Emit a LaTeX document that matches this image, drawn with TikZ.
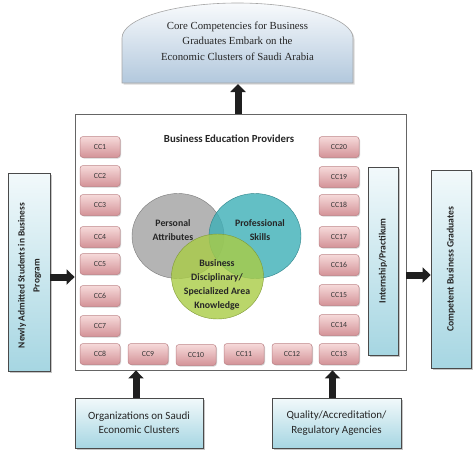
\documentclass[tikz,border=0pt]{standalone}
\usepackage{fontspec}
\setmainfont{Carlito}
\newfontfamily\domefont{Liberation Serif}
\usetikzlibrary{arrows.meta,shadows,shapes.geometric,calc}
\definecolor{ccpinkT}{HTML}{F6DADA}
\definecolor{ccpinkB}{HTML}{D39297}
\definecolor{ccedge}{HTML}{BE8488}
\definecolor{blueT}{HTML}{F2F9FB}
\definecolor{blueB}{HTML}{A6D6E2}
\definecolor{domeT}{HTML}{F8FAFC}
\definecolor{domeB}{HTML}{B2C8DD}
\definecolor{greyC}{HTML}{A2A2A2}
\definecolor{tealC}{HTML}{3DAFB7}
\definecolor{greenC}{HTML}{A9CC45}
\definecolor{edgeD}{HTML}{4A4A4A}
\begin{document}
\begin{tikzpicture}[x=1pt,y=-1pt,
  ccbox/.style={draw=ccedge, line width=0.5pt, rounded corners=3pt,
    top color=ccpinkT, bottom color=ccpinkB, minimum width=40pt,
    minimum height=21pt, inner sep=0pt, font=\fontsize{7.8}{8}\selectfont,
    text=black!78, drop shadow={shadow xshift=1pt, shadow yshift=-1pt, opacity=0.35}},
  sidebox/.style={draw=edgeD, line width=0.7pt, top color=blueT, bottom color=blueB,
    inner sep=0pt, drop shadow={shadow xshift=1.5pt, shadow yshift=-1.5pt, opacity=0.45}},
  sidetext/.style={rotate=90, align=center, font=\bfseries\fontsize{9.4}{15}\selectfont, text=black!85},
  bottext/.style={align=center, font=\fontsize{11}{14.3}\selectfont, text=black!85},
  bigarrow/.style={line width=7pt, draw=black!88, -{Triangle[length=8pt,width=15pt]}},
  venn/.style={ellipse, draw=#1!75!black, line width=0.4pt, fill=#1, fill opacity=0.8,
    minimum width=92pt, minimum height=85pt, inner sep=0pt},
  venntext/.style={align=center, font=\bfseries\fontsize{9.8}{14}\selectfont, text=black!85}
]
\useasboundingbox (0,0) rectangle (474,453);

% dome
\path[draw=gray!70, line width=0.6pt, top color=domeT, bottom color=domeB,
  drop shadow={shadow xshift=1.5pt, shadow yshift=-1.5pt, opacity=0.3}]
  (122,83) -- (122,38) arc[start angle=180, end angle=0, x radius=115.5pt, y radius=35pt]
  -- (353,83) -- cycle;
\node (dome) [font=\domefont\fontsize{10.8}{15.7}\selectfont, align=center, text=black!85]
  at (237.5,41) {Core Competencies for Business\\Graduates Embark on the\\Economic Clusters of Saudi Arabia};
\coordinate (domebot) at (238,84);

% main box
\node (main) [draw=edgeD!85, line width=0.8pt, fill=white, minimum width=331pt,
  minimum height=256pt, inner sep=0pt,
  drop shadow={shadow xshift=1pt, shadow yshift=-1pt, opacity=0.3}] at (240.5,242) {};
\node (bep) [font=\bfseries\fontsize{10.8}{12}\selectfont, text=black!85] at (229,139)
  {Business Education Providers};

% venn
\node (pers) [venn=greyC] at (178,236) {};
\node (prof) [venn=tealC] at (255,236) {};
\node (disc) [venn=greenC] at (217.5,276.5) {};
\node (perst) [venntext] at (173,230) {Personal\\Attributes};
\node (proft) [venntext] at (260,230) {Professional\\Skills};
\node (disct) [venntext] at (217,285) {Business\\Disciplinary/\\Specialized Area\\Knowledge};

% CC boxes
\node (cc1) [ccbox] at (100,147) {CC1};
\node (cc2) [ccbox] at (100,176) {CC2};
\node (cc3) [ccbox] at (100,205) {CC3};
\node (cc4) [ccbox] at (100,237) {CC4};
\node (cc5) [ccbox] at (100,264) {CC5};
\node (cc6) [ccbox] at (100,296) {CC6};
\node (cc7) [ccbox] at (100,326) {CC7};
\node (cc8) [ccbox] at (100,354) {CC8};
\node (cc9) [ccbox] at (148,354) {CC9};
\node (cc10) [ccbox] at (196,355) {CC10};
\node (cc11) [ccbox] at (244,354) {CC11};
\node (cc12) [ccbox] at (292,354) {CC12};
\node (cc13) [ccbox] at (339,354) {CC13};
\node (cc14) [ccbox] at (339,325) {CC14};
\node (cc15) [ccbox] at (339,295) {CC15};
\node (cc16) [ccbox] at (339,265) {CC16};
\node (cc17) [ccbox] at (339,237) {CC17};
\node (cc18) [ccbox] at (339,205) {CC18};
\node (cc19) [ccbox] at (339,177) {CC19};
\node (cc20) [ccbox] at (339,147) {CC20};

% side boxes
\node (intern) [sidebox, minimum width=30pt, minimum height=188pt] at (383,261) {};
\node (interntxt) [sidetext, font=\bfseries\fontsize{9.6}{12}\selectfont] at (intern) {Internship/Practikum};
\node (comp) [sidebox, minimum width=40pt, minimum height=198pt] at (451,269) {};
\node (comptxt) [sidetext, font=\bfseries\fontsize{9.7}{12}\selectfont] at (comp) {Competent Business Graduates};
\node (left) [sidebox, minimum width=42pt, minimum height=198pt] at (29,272) {};
\node (lefttxt) [sidetext] at ([xshift=0.5pt,yshift=-3.5pt]left.center) {Newly Admitted Students in Business\\Program};

% bottom boxes
\node (org) [sidebox, minimum width=128pt, minimum height=50pt] at (139,423) {};
\node (orgtxt) [bottext] at (org) {Organizations on Saudi\\Economic Clusters};
\node (qual) [sidebox, minimum width=129pt, minimum height=50pt] at (336.5,423) {};
\node (qualtxt) [bottext] at (qual) {Quality/Accreditation/\\Regulatory Agencies};

% arrows
\draw[bigarrow] (main.north -| domebot) -- (domebot);
\draw[bigarrow] ([yshift=-5pt]left.east) -- ([yshift=-5pt]left.east -| main.west);
\draw[bigarrow] ([yshift=-6pt]comp.west -| main.east) -- ([yshift=-6pt]comp.west);
\draw[bigarrow] ([xshift=-3pt]org.north) -- ([xshift=-3pt]org.north |- main.south);
\draw[bigarrow] ([xshift=-4pt]qual.north) -- ([xshift=-4pt]qual.north |- main.south);
\end{tikzpicture}
\end{document}
